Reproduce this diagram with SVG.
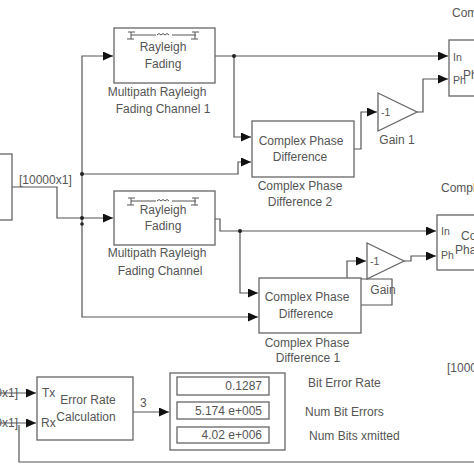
<svg xmlns="http://www.w3.org/2000/svg" width="474" height="474" viewBox="0 0 474 474">
<defs>
<marker id="ar" markerUnits="userSpaceOnUse" markerWidth="11" markerHeight="10" refX="10" refY="4.5" orient="auto">
<path d="M0,0 L10,4.5 L0,9 z" fill="#111"/>
</marker>
<style>
.w{fill:none;stroke:#555;stroke-width:1.2}
.a{marker-end:url(#ar)}
.b{fill:#fff;stroke:#666;stroke-width:1.3}
.t{font-family:"Liberation Sans",Arial,sans-serif;font-size:12px;fill:#555}
.s{font-size:10.5px}
.c{text-anchor:middle}
.e{text-anchor:end}
.d{fill:#222}
</style>
</defs>
<rect width="474" height="474" fill="#fff"/>
<g id="connectors">
<path class="w" d="M12,187 H57 V218 H113" style="marker-end:url(#ar)"/>
<path class="w a" d="M82,218 V56 H113"/>
<path class="w a" d="M82,218 V317 H258"/>
<path class="w a" d="M82,174 H238 V162 H251"/>
<path class="w a" d="M215,56 H448"/>
<path class="w a" d="M234,56 V137 H251"/>
<path class="w a" d="M354,149 H361 V112 H377"/>
<path class="w a" d="M417,112 H423 V79 H448"/>
<path class="w a" d="M215,219 H220 V231 H436"/>
<path class="w a" d="M240,231 V293 H258"/>
<path class="w a" d="M361,305 H392 V279 H347 V261 H366"/>
<path class="w a" d="M404,261 H411 V256 H436"/>
<path class="w a" d="M0,393 H36"/>
<path class="w a" d="M0,423 H36"/>
<path class="w" d="M19,425 V462 H474"/>
<path class="w a" d="M133,412 H169"/>
<circle class="d" cx="82" cy="174" r="2"/>
<circle class="d" cx="82" cy="218" r="2"/>
<circle class="d" cx="82" cy="224" r="1.8"/>
<circle class="d" cx="234" cy="56" r="2"/>
<circle class="d" cx="240" cy="231" r="2"/>
<text class="t" x="19" y="184">[10000x1]</text>
<text class="t e" x="18" y="397">[10000x1]</text>
<text class="t e" x="18" y="427">[10000x1]</text>
<text class="t" x="140" y="407">3</text>
<text class="t" x="447" y="372">[10000x1]</text>
</g>
<g id="source">
<rect class="b" x="-5" y="154" width="17" height="66"/>
</g>
<g id="rayleigh1">
<rect class="b" x="114" y="28" width="101" height="55"/>
<path d="M131,35 H156 M172,35 H196 M131,32 V39 M128,32 H135 M127,39 H134 M195,32 V39 M192,32 H199 M191,39 H198 M157,35 q2,-3 4,0 q2,-3 4,0 q2,-3 4,0" fill="none" stroke="#555" stroke-width="1"/>
<text class="t c" x="163" y="51">Rayleigh</text>
<text class="t c" x="163" y="68">Fading</text>
<text class="t c" x="157" y="96">Multipath Rayleigh</text>
<text class="t c" x="163" y="113">Fading Channel  1</text>
</g>
<g id="rayleigh2">
<rect class="b" x="114" y="191" width="101" height="54"/>
<path d="M131,201 H156 M172,201 H196 M131,198 V205 M128,198 H135 M127,205 H134 M195,198 V205 M192,198 H199 M191,205 H198 M157,201 q2,-3 4,0 q2,-3 4,0 q2,-3 4,0" fill="none" stroke="#555" stroke-width="1"/>
<text class="t c" x="163" y="214">Rayleigh</text>
<text class="t c" x="163" y="230">Fading</text>
<text class="t c" x="157" y="257">Multipath Rayleigh</text>
<text class="t c" x="160" y="275">Fading Channel</text>
</g>
<g id="cpd2">
<rect class="b" x="252" y="121" width="102" height="56"/>
<text class="t c" x="301" y="145">Complex Phase</text>
<text class="t c" x="300" y="161">Difference</text>
<text class="t c" x="300" y="190">Complex Phase</text>
<text class="t c" x="300" y="206">Difference  2</text>
</g>
<g id="gain1">
<path class="b" d="M378,93 L417,112 L378,131 Z"/>
<text class="t s" x="381" y="116">-1</text>
<text class="t c" x="397" y="144">Gain 1</text>
</g>
<g id="cpd1">
<rect class="b" x="259" y="278" width="102" height="55"/>
<text class="t c" x="307" y="301">Complex Phase</text>
<text class="t c" x="306" y="318">Difference</text>
<text class="t c" x="307" y="347">Complex Phase</text>
<text class="t c" x="308" y="362">Difference  1</text>
</g>
<g id="gain">
<path class="b" d="M367,243 L404,261 L367,279 Z"/>
<text class="t s" x="370" y="265">-1</text>
<text class="t c" x="383" y="294">Gain</text>
</g>
<g id="out1">
<rect class="b" x="449" y="40" width="40" height="56"/>
<text class="t" x="452" y="17">Complex Phase</text>
<text class="t s" x="453" y="61">In</text>
<text class="t s" x="453" y="84">Ph</text>
<text class="t" x="463" y="79">Pha</text>
</g>
<g id="out2">
<rect class="b" x="437" y="215" width="50" height="55"/>
<text class="t" x="441" y="192">Complex Phase</text>
<text class="t s" x="441" y="235">In</text>
<text class="t s" x="441" y="259">Ph</text>
<text class="t" x="461" y="240">Co</text>
<text class="t" x="455" y="254">Pha</text>
</g>
<g id="errorrate">
<rect class="b" x="37" y="377" width="96" height="63"/>
<text class="t" x="42" y="397">Tx</text>
<text class="t" x="41" y="427">Rx</text>
<text class="t c" x="88" y="404">Error Rate</text>
<text class="t c" x="86" y="421">Calculation</text>
</g>
<g id="display">
<rect class="b" x="170" y="373" width="115" height="77"/>
<rect class="b" x="177" y="377" width="92" height="18"/>
<rect class="b" x="177" y="402" width="92" height="17"/>
<rect class="b" x="177" y="427" width="92" height="16"/>
<text class="t e" x="262" y="390">0.1287</text>
<text class="t e" x="262" y="415">5.174 e+005</text>
<text class="t e" x="262" y="439">4.02 e+006</text>
<text class="t" x="308" y="387">Bit Error Rate</text>
<text class="t" x="305" y="416">Num Bit Errors</text>
<text class="t" x="309" y="440">Num Bits xmitted</text>
</g>
</svg>
